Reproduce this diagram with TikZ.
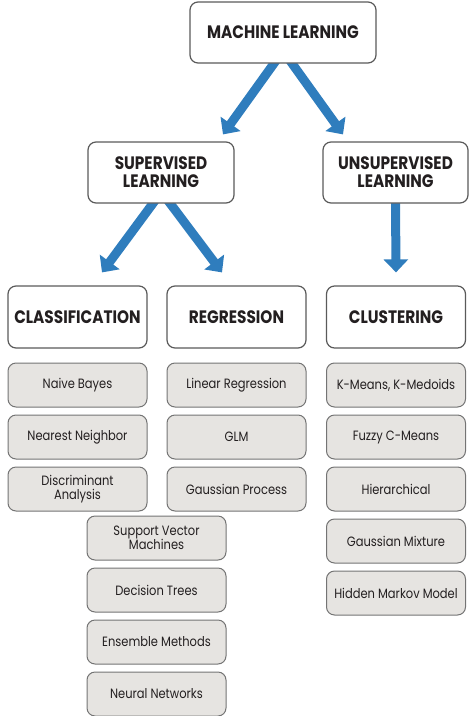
\documentclass[tikz,border=0pt]{standalone}
\usepackage{fontspec}
\setmainfont{Poppins}[FakeStretch=0.85]
\usetikzlibrary{positioning,arrows.meta,backgrounds}

\begin{document}
\begin{tikzpicture}[x=1pt, y=-1pt, line width=1pt,
  box/.style={draw=edge, rounded corners=8pt, align=center, text=ink, inner sep=2pt},
  topbox/.style={box, fill=white, line width=1.2pt, minimum height=61pt, font=\fontsize{18}{18}\selectfont\bfseries},
  catbox/.style={topbox, minimum width=139pt, minimum height=62pt},
  leaf/.style={box, draw=leafedge, fill=leafgray, minimum width=139pt, minimum height=44pt, font=\fontsize{13.5}{14.5}\selectfont},
  bigarr/.style={draw=arrowblue, line width=9pt, -{Triangle[width=24pt, length=13pt]}},
]
\definecolor{edge}{HTML}{5A5A5A}
\definecolor{leafedge}{HTML}{747474}
\definecolor{leafgray}{HTML}{E6E4E1}
\definecolor{ink}{HTML}{231F20}
\definecolor{arrowblue}{HTML}{2F7DBD}
\useasboundingbox (0,0) rectangle (474,716);

% ---------------- top levels ----------------
\node[topbox, minimum width=186pt] (ml)  at (283,32.5)   {MACHINE LEARNING};
\node[topbox, minimum width=146pt] (sup) at (161,172.5)  {SUPERVISED\\LEARNING};
\node[topbox, minimum width=145pt] (uns) at (395.5,172.5) {UNSUPERVISED\\LEARNING};
\node[catbox] (cls) at (77.5,317)  {CLASSIFICATION};
\node[catbox] (reg) at (236.5,317) {REGRESSION};
\node[catbox] (clu) at (396,317)   {CLUSTERING};

% ---------------- methods ----------------
\node[leaf] (nb) at (77.5,385) {Naive Bayes};
\node[leaf, below=7pt of nb] (nn) {Nearest Neighbor};
\node[leaf, below=7pt of nn] (da) {Discriminant\\Analysis};
\node[leaf] (lr) at (236.5,385) {Linear Regression};
\node[leaf, below=7pt of lr] (glm) {GLM};
\node[leaf, below=7pt of glm] (gp) {Gaussian Process};
\node[leaf] (svm) at (156.5,538) {Support Vector\\Machines};
\node[leaf, below=7pt of svm] (dt) {Decision Trees};
\node[leaf, below=7pt of dt] (ens) {Ensemble Methods};
\node[leaf, below=7pt of ens] (nnet) {Neural Networks};
\node[leaf] (km) at (396,385) {K-Means, K-Medoids};
\node[leaf, below=7pt of km] (fcm) {Fuzzy C-Means};
\node[leaf, below=7pt of fcm] (hier) {Hierarchical};
\node[leaf, below=7pt of hier] (gmm) {Gaussian Mixture};
\node[leaf, below=7pt of gmm] (hmm) {Hidden Markov Model};

% ---------------- arrows (behind the boxes) ----------------
\begin{scope}[on background layer]
\draw[bigarr] ([xshift=-7pt, yshift=3pt]ml.south) -- ([xshift=62pt, yshift=7pt]sup.north);
\draw[bigarr] ([xshift=7pt, yshift=3pt]ml.south) -- ([xshift=-52.5pt, yshift=7pt]uns.north);
\draw[bigarr] ([xshift=-6pt, yshift=3pt]sup.south) -- ([xshift=24.5pt, yshift=13pt]cls.north);
\draw[bigarr] ([xshift=7pt, yshift=3pt]sup.south) -- ([xshift=-14.5pt, yshift=13pt]reg.north);
\draw[bigarr] ([yshift=3pt]uns.south) -- ([yshift=13pt]clu.north);
\end{scope}
\end{tikzpicture}
\end{document}
